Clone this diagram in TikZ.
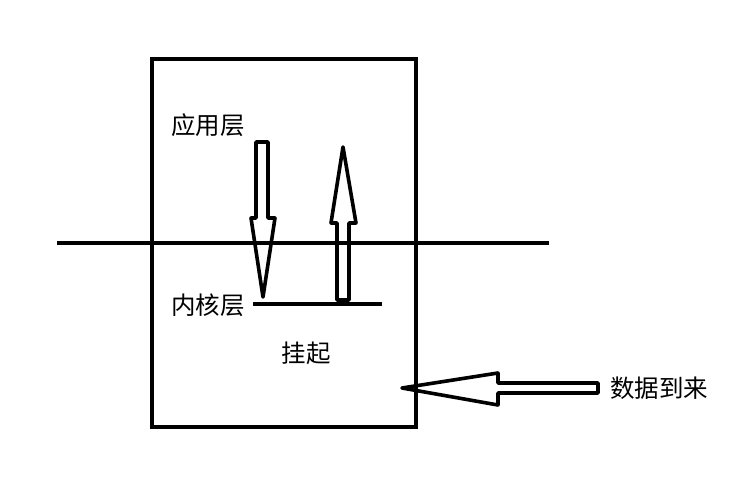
\documentclass[tikz,border=0pt]{standalone}
\usepackage{fontspec}
\newfontfamily\cjk{Noto Sans CJK SC}
\usetikzlibrary{positioning}

\begin{document}
\begin{tikzpicture}[
  x=1pt, y=-1pt,
  label/.style={font=\cjk\fontsize{24.5}{24.5}\selectfont, inner sep=0pt},
  thick line/.style={line width=3.6pt},
  block/.style={line width=3.6pt, line join=round},
]
\useasboundingbox (0,0) rectangle (752,495);

% box and layer divider
\draw[thick line] (152,59) rectangle (416,427);
\draw[thick line] (57,243) -- (549,243);
\node[label] (app) at (208,125) {应用层};
\node[label] (kern) at (208,305) {内核层};
\draw[thick line] (253,304) coordinate (kl) -- (382,304) coordinate (kr);
\node[label] (hang) at (306,353) {挂起};
\node[label, anchor=west] (data) at (610,388) {数据到来};

% down arrow
\draw[block] (256,142) -- (268,142) -- (268,218) -- (275,218) -- (263,297)
  -- (251,218) -- (256,218) -- cycle;
% up arrow
\draw[block] (337,300) -- (349,300) -- (349,223) -- (356,223) -- (343,147)
  -- (331,223) -- (337,223) -- cycle;
% incoming data arrow
\draw[block] (598,383) -- (498,383) -- (498,373) -- (402,388) -- (498,405)
  -- (498,393) -- (598,393) -- cycle;
\end{tikzpicture}
\end{document}
